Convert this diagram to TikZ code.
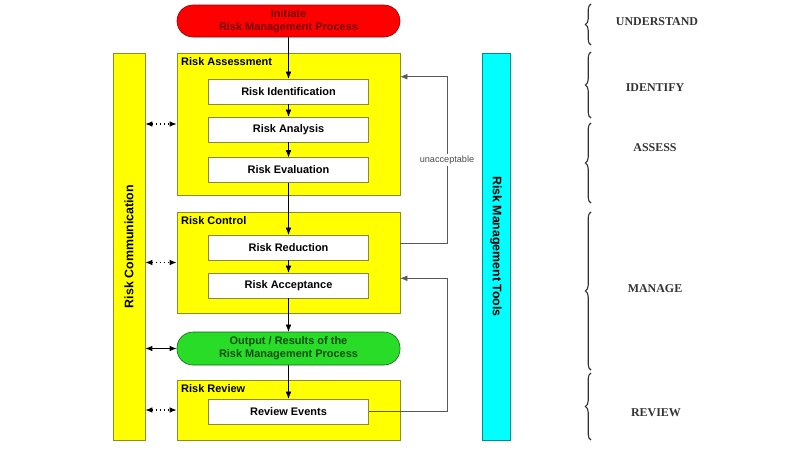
\documentclass[tikz,border=0pt]{standalone}
\usepackage{fontspec}
\setmainfont{Liberation Sans}
\newfontfamily\phasefont{Liberation Serif}
\definecolor{boxyellow}{RGB}{255, 255, 0}
\definecolor{edgeolive}{RGB}{140, 140, 40}
\definecolor{startred}{RGB}{255, 0, 0}
\definecolor{endgreen}{RGB}{40, 220, 40}
\definecolor{toolcyan}{RGB}{0, 255, 255}
\usetikzlibrary{arrows.meta, calc, decorations.pathreplacing}

\begin{document}
\begin{tikzpicture}[x=0.025cm, y=-0.025cm,
  phase/.style={draw=edgeolive, fill=boxyellow, minimum width=5.575cm, inner sep=0pt},
  phaselabel/.style={anchor=north west, inner sep=3pt, font=\fontsize{7.8}{9}\selectfont\bfseries},
  stepbox/.style={draw=edgeolive!70!gray, fill=white, minimum width=4cm, minimum height=0.625cm, font=\fontsize{7.8}{9}\selectfont\bfseries},
  term/.style={minimum width=5.575cm, rounded corners=0.4cm, align=center, font=\fontsize{7.8}{9}\selectfont\bfseries, inner sep=0pt},
  bar/.style={minimum height=9.675cm, inner sep=0pt, font=\fontsize{8.8}{10}\selectfont\bfseries},
  flow/.style={-{Latex[length=5pt, width=4pt]}, black},
  fb/.style={-{Latex[length=5pt, width=4pt]}, gray!70!black},
  link/.style={{Latex[length=5pt, width=4pt]}-{Latex[length=5pt, width=4pt]}, black, thick},
  curly/.style={decorate, decoration={brace, amplitude=4pt}, thick, black!80},
  stage/.style={font=\phasefont\fontsize{8.5}{10}\selectfont\bfseries, text=black!80}]
  \useasboundingbox (0,0) rectangle (800,450);

  % Side bars
  \node[bar, draw=edgeolive, fill=boxyellow, minimum width=0.8cm] (comm) at (129, 246.5) {\rotatebox{90}{Risk Communication}};
  \node[bar, draw=toolcyan!55!black, fill=toolcyan, minimum width=0.7cm] (tools) at (496, 246.5) {\rotatebox{-90}{Risk Management Tools}};

  % Start
  \node[term, draw=startred!55!black, fill=startred, text=startred!45!black, minimum height=0.8cm] (init) at (288.5, 21) {Initiate\\Risk Management Process};

  % Risk Assessment
  \node[phase, minimum height=3.55cm, label={[phaselabel]north west:Risk Assessment}] (assess) at (288.5, 124) {};
  \node[stepbox] (ident) at (288.5, 91.5) {Risk Identification};
  \node[stepbox] (anal) at (288.5, 129.5) {Risk Analysis};
  \node[stepbox] (eval) at (288.5, 170) {Risk Evaluation};

  % Risk Control
  \node[phase, minimum height=2.525cm, label={[phaselabel]north west:Risk Control}] (control) at (288.5, 262.5) {};
  \node[stepbox] (reduce) at (288.5, 247.5) {Risk Reduction};
  \node[stepbox] (accept) at (288.5, 285.5) {Risk Acceptance};

  % Output
  \node[term, draw=endgreen!45!black, fill=endgreen, text=endgreen!35!black, minimum height=0.825cm] (output) at (288.5, 348.5) {Output / Results of the\\Risk Management Process};

  % Risk Review
  \node[phase, minimum height=1.5cm, label={[phaselabel]north west:Risk Review}] (review) at (288.5, 410) {};
  \node[stepbox] (events) at (288.5, 411.5) {Review Events};

  % Main flow
  \draw[flow] (init) -- (ident);
  \draw[flow] (ident) -- (anal);
  \draw[flow] (anal) -- (eval);
  \draw[flow] (eval) -- (reduce);
  \draw[flow] (reduce) -- (accept);
  \draw[flow] (accept) -- (output);
  \draw[flow] (output) -- (events);

  % Feedback loops
  \coordinate (loop) at (447, 0);
  \coordinate (backA) at ($(assess.north east)+(0,24)$);
  \coordinate (backC) at ($(control.south east)+(0,-35)$);
  \draw[fb] ([yshift=3pt]reduce.east -| control.east) -- ([yshift=3pt]reduce.east -| loop)
    -- node[fill=white, inner sep=1pt, text=black!70, font=\fontsize{6.5}{8}\selectfont] (unacc) {unacceptable} (backA -| loop) -- (backA);
  \draw[fb] (events.east) -- (events.east -| loop) -- (backC -| loop) -- (backC);

  % Communication links
  \draw[link, dotted] (comm.east |- assess.west) -- (assess.west);
  \draw[link, dotted] (comm.east |- control.west) -- (control.west);
  \draw[link] (comm.east |- output.west) -- (output.west);
  \draw[link, dotted] (comm.east |- review.west) -- (review.west);

  % Stages
  \draw[curly] (591, 45) -- (591, 4);
  \draw[curly] (591, 118) -- (591, 52);
  \draw[curly] (591, 203) -- (591, 123);
  \draw[curly] (591, 370) -- (591, 212);
  \draw[curly] (591, 440) -- (591, 373);
  \node[stage] (understand) at (657, 22) {UNDERSTAND};
  \node[stage] (identify) at (655, 88) {IDENTIFY};
  \node[stage] (assessst) at (655, 148) {ASSESS};
  \node[stage] (manage) at (655, 289) {MANAGE};
  \node[stage] (reviewst) at (656, 413) {REVIEW};
\end{tikzpicture}
\end{document}
